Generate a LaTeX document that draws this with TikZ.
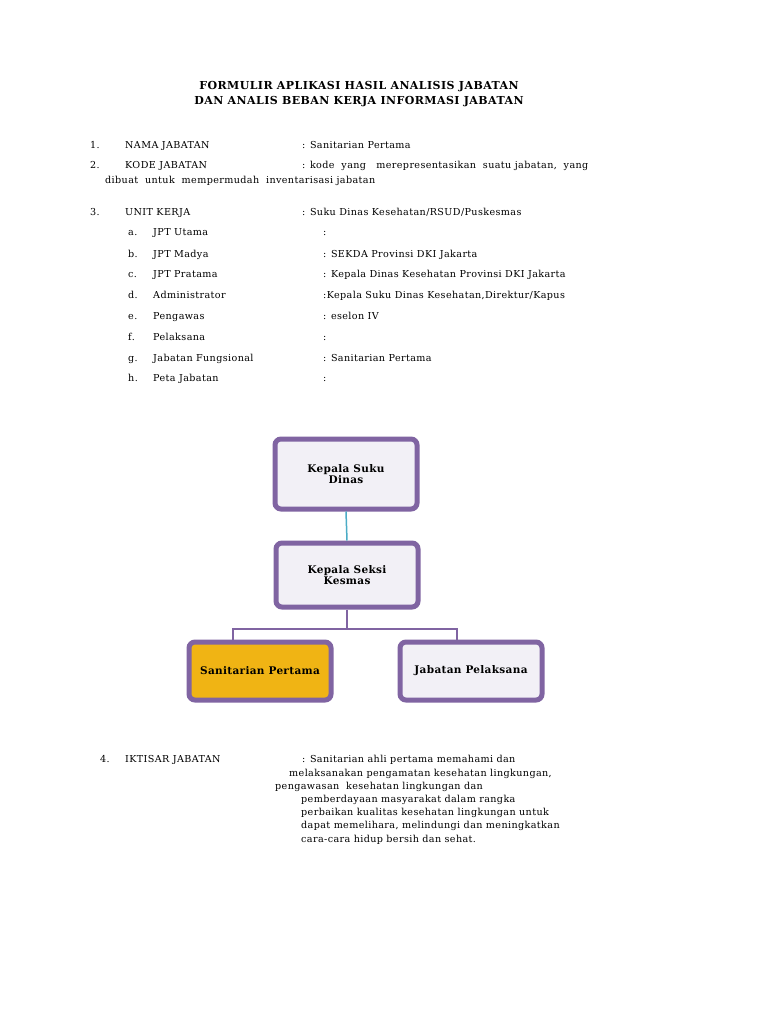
\documentclass[tikz,border=0pt]{standalone}
\usepackage{fontspec}
\setmainfont{DejaVu Serif}[LetterSpace=4]
\newfontfamily\boxfont{DejaVu Serif}[LetterSpace=3]
\begin{document}
\begin{tikzpicture}[x=1pt,y=-1pt,
 t/.style={anchor=base west,inner sep=0pt,font=\fontsize{9.6}{12}\selectfont},
 hd/.style={anchor=base,inner sep=0pt,font=\fontsize{11}{13}\selectfont\bfseries},
 box/.style={draw=boxpurple,line width=5pt,rounded corners=6pt,fill=boxfill,minimum width=142pt,align=center,font=\boxfont\fontsize{10.5}{11}\selectfont\bfseries},
 con/.style={draw=boxpurple,line width=2pt}]
\definecolor{boxpurple}{RGB}{128,100,162}
\definecolor{boxfill}{RGB}{242,240,246}
\definecolor{orangefill}{RGB}{240,180,20}
\definecolor{teal1}{RGB}{75,172,198}
\useasboundingbox[fill=white] (0,0) rectangle (768,1024);
\node[hd] (h1) at (359,90) {FORMULIR APLIKASI HASIL ANALISIS JABATAN};
\node[hd] (h2) at (359,105) {DAN ANALIS BEBAN KERJA INFORMASI JABATAN};
\node[t] (n1) at (90,149) {1.}; \node[t] (l1) at (125,149) {NAMA JABATAN}; \node[t] (v1) at (302,149) {: Sanitarian Pertama};
\node[t] (n2) at (90,169) {2.}; \node[t] (l2) at (125,169) {KODE JABATAN}; \node[t] (v2) at (302,169) {: kode\ \ yang\ \ \ merepresentasikan\ \ suatu jabatan,\ \ yang};
\node[t] (v2b) at (105,184) {dibuat\ \ untuk\ \ mempermudah\ \ inventarisasi jabatan};
\node[t] (n3) at (90,216) {3.}; \node[t] (l3) at (125,216) {UNIT KERJA}; \node[t] (v3) at (302,216) {: Suku Dinas Kesehatan/RSUD/Puskesmas};
\foreach \y/\a/\b/\c in {236/a./JPT Utama/:,257/b./JPT Madya/{: SEKDA Provinsi DKI Jakarta},277/c./JPT Pratama/{: Kepala Dinas Kesehatan Provinsi DKI Jakarta},298/d./Administrator/{:Kepala Suku Dinas Kesehatan,Direktur/Kapus},319/e./Pengawas/{: eselon IV},340/f./Pelaksana/:,361/g./Jabatan Fungsional/{: Sanitarian Pertama},381/h./Peta Jabatan/:}{
 \node[t] at (128,\y) {\a}; \node[t] at (153,\y) {\b}; \node[t] at (323,\y) {\c};}
% chart
\node[box,minimum height=70pt] (b1) at (346,474) {Kepala Suku\\Dinas};
\node[box,minimum height=64pt] (b2) at (347,575) {Kepala Seksi\\Kesmas};
\node[box,fill=orangefill,minimum height=58pt] (b3) at (260,671) {Sanitarian Pertama};
\node[box,minimum height=58pt] (b4) at (471,671) {Jabatan Pelaksana};
\draw[teal1,line width=1.5pt] (b1.south) -- (b2.north);
\coordinate (m) at (347,629);
\draw[con] (b2.south) -- (m);
\draw[con] (b3.north -| 233,0) |- (m) -| (b4.north -| 457,0);
% item 4
\node[t] (n4) at (100,762) {4.}; \node[t] (l4) at (125,762) {IKTISAR JABATAN}; \node[t] (v4) at (302,762) {: Sanitarian ahli pertama memahami dan};
\node[t] at (289,776) {melaksanakan pengamatan kesehatan lingkungan,};
\node[t] at (275,789) {pengawasan\ \ kesehatan lingkungan dan};
\node[t] at (301,802) {pemberdayaan masyarakat dalam rangka};
\node[t] at (301,815) {perbaikan kualitas kesehatan lingkungan untuk};
\node[t] at (301,828) {dapat memelihara, melindungi dan meningkatkan};
\node[t] at (301,842) {cara-cara hidup bersih dan sehat.};
\end{tikzpicture}
\end{document}
